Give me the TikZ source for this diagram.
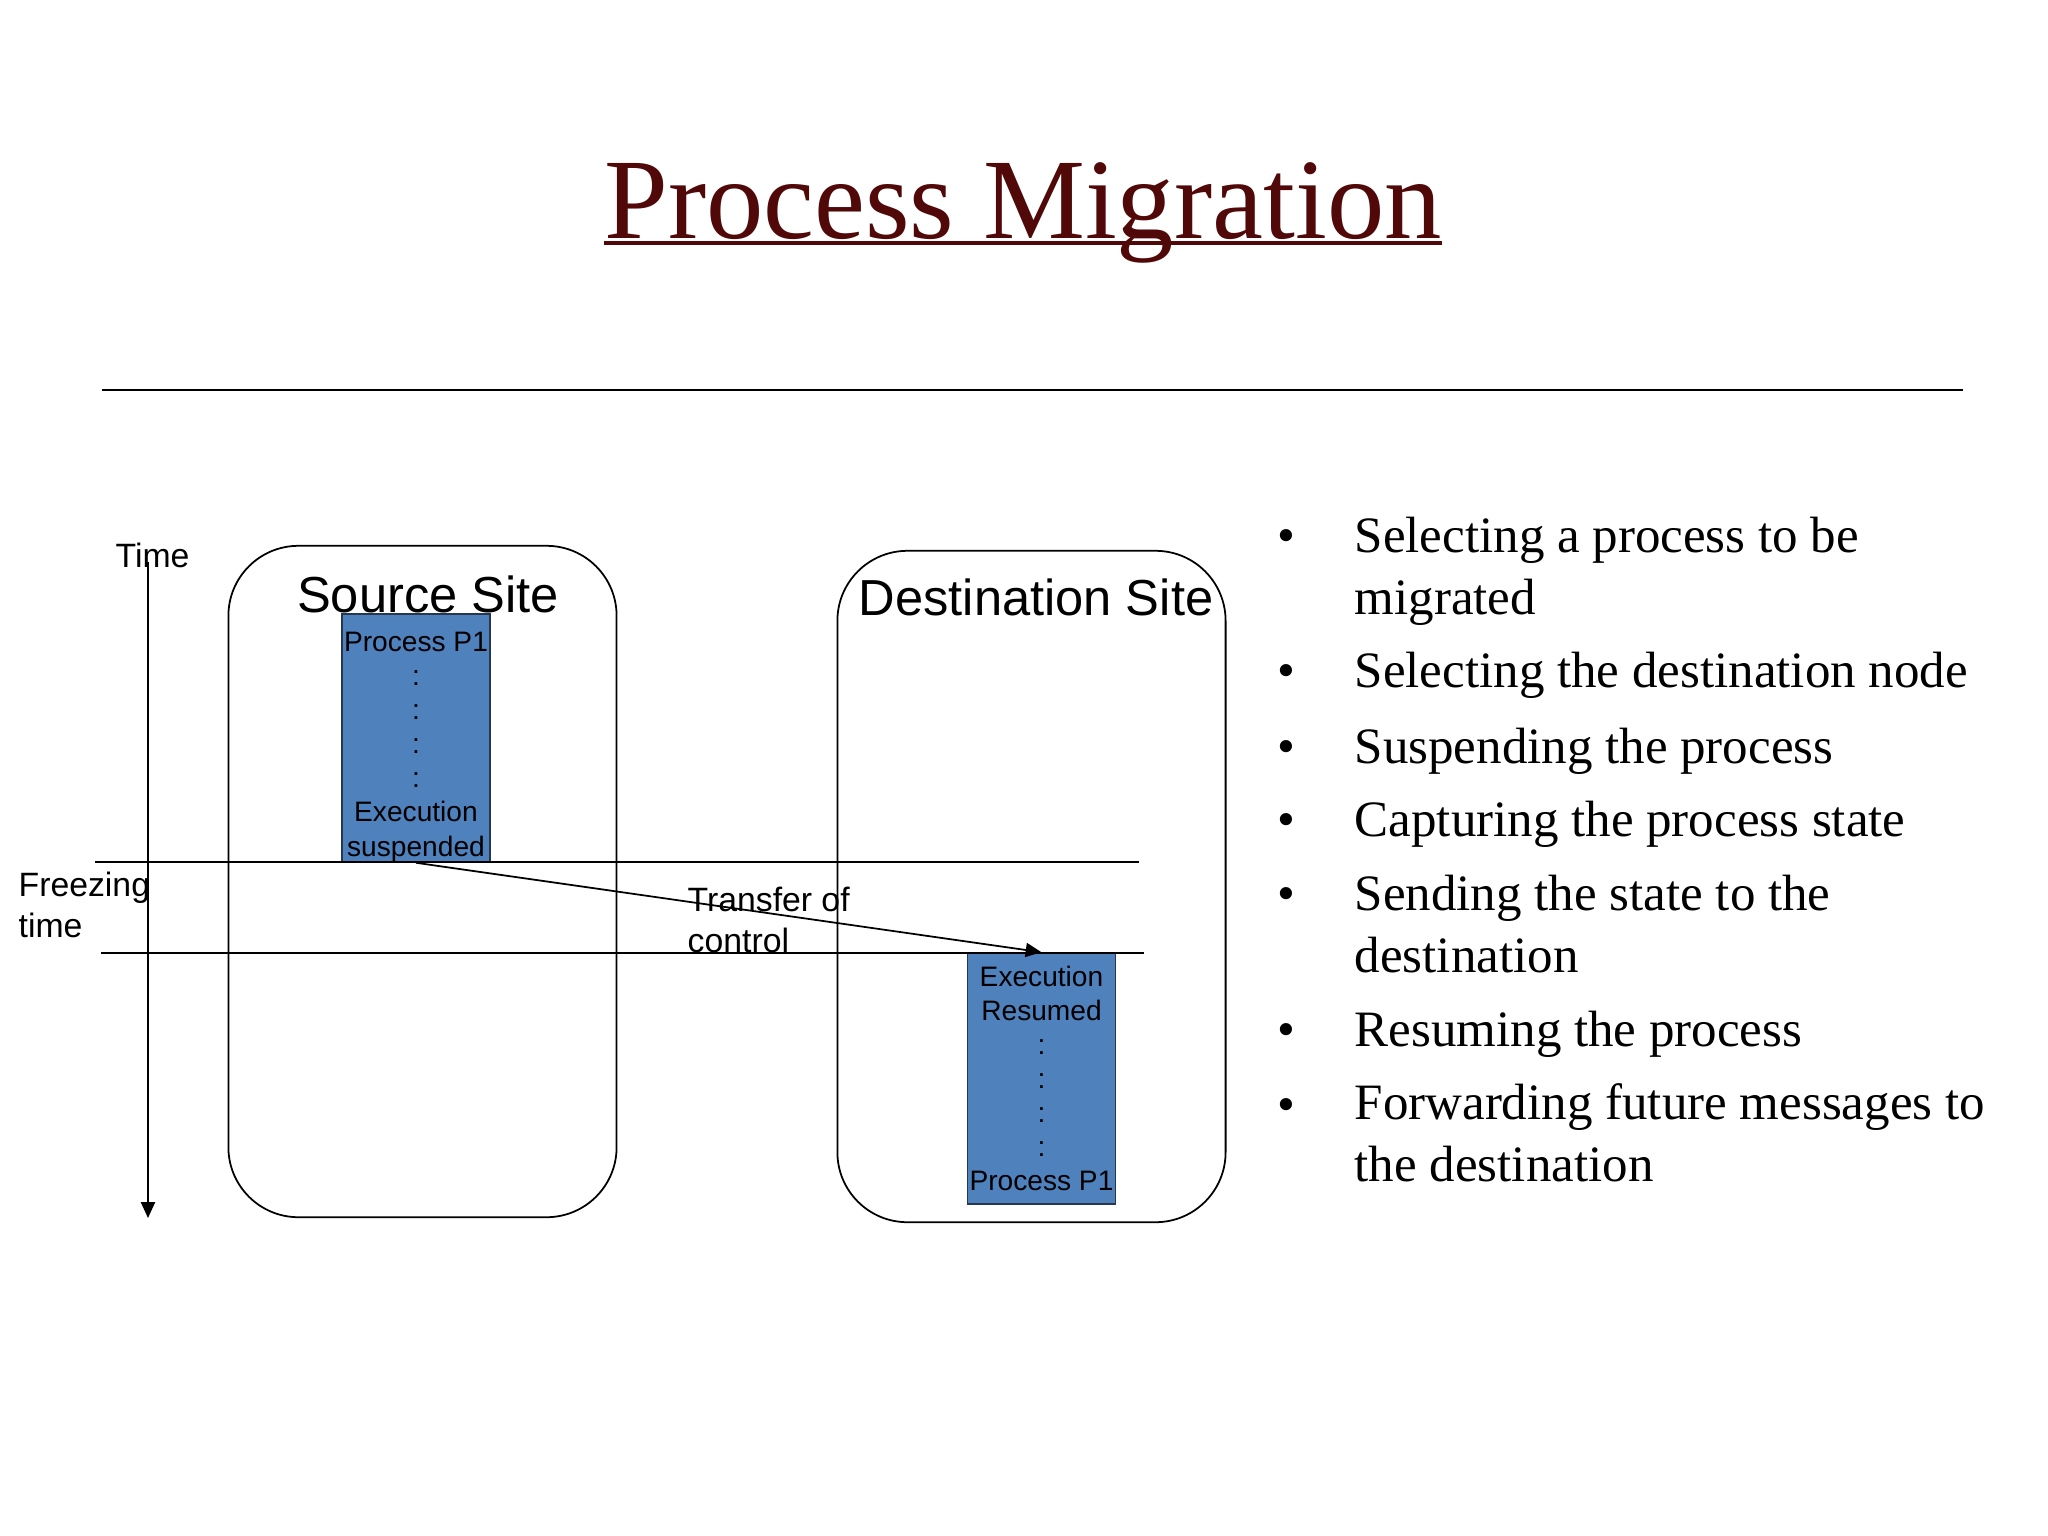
\documentclass[tikz,border=0pt]{standalone}
\usepackage{fontspec}
\setmainfont{Liberation Serif}
\setsansfont{Liberation Sans}
\usepackage{tikz}
\usetikzlibrary{arrows.meta, positioning}
\definecolor{titlered}{RGB}{80,8,8}
\definecolor{procblue}{RGB}{79,129,189}
\definecolor{procedge}{RGB}{40,55,80}

\begin{document}
\begin{tikzpicture}[
        x=0.01cm, y=-0.01cm,
        >={Triangle[length=4.5pt, width=4pt]},
        site/.style={draw, line width=0.5pt, rounded corners=0.7cm, minimum width=3.88cm, minimum height=6.71cm},
        sitename/.style={font=\sffamily\fontsize{14.4}{17}\selectfont, inner sep=0pt},
        procbox/.style={draw=procedge, line width=0.4pt, fill=procblue, minimum width=1.48cm, align=center, font=\sffamily\fontsize{8}{9.7}\selectfont, inner sep=0pt},
        lbl/.style={font=\sffamily\fontsize{9.6}{11.7}\selectfont, align=left, inner sep=0pt},
        itemtext/.style={font=\fontsize{14.5}{17.4}\selectfont, align=left, anchor=base west, inner sep=0pt},
        every node/.style={inner sep=2pt}
    ]
    \useasboundingbox[fill=white] (0,0) rectangle (2048,1536);

    % title and rule
    \node[font=\fontsize{32.6}{38}\selectfont, text=titlered, anchor=base, inner sep=0pt] (title) at (1023,238) {Process Migration};
    \draw[titlered, line width=1.1pt] ([yshift=-0.05cm]title.base west) -- ([yshift=-0.05cm]title.base east);
    \coordinate (ruleL) at (102,390);
    \coordinate (ruleR) at (1963,390);
    \draw[line width=0.6pt] (ruleL) -- (ruleR);

    % sites
    \node[site] (src) at (422.5,881.5) {};
    \node[site] (dst) at (1031.5,886.5) {};
    \node[sitename] (srcname) at (428,594) {Source Site};
    \node[sitename] (dstname) at (1036,597) {Destination Site};

    % process boxes
    \node[procbox, minimum height=2.48cm] (srcproc) at (416,738) {\rule{0pt}{10.6pt}Process P1\\:\\:\\:\\:\\Execution\\suspended};
    \node[procbox, minimum height=2.51cm] (dstproc) at (1041.5,1078.5) {Execution\\Resumed\\:\\:\\:\\:\\Process P1};

    % time axis and freezing window
    \node[lbl, anchor=west] (time) at (115,555) {Time};
    \coordinate (ttop) at (148,562);
    \coordinate (tbot) at (148,1218);
    \draw[->, line width=0.5pt] (ttop) -- (tbot);
    \coordinate (f1L) at (95,862);
    \coordinate (f1R) at (1139,862);
    \coordinate (f2L) at (101,953);
    \coordinate (f2R) at (1144,953);
    \draw[line width=0.5pt] (f1L) -- (f1R);
    \draw[line width=0.5pt] (f2L) -- (f2R);
    \node[lbl, anchor=west] (freeze) at (18,905) {Freezing\\time};

    % transfer of control
    \draw[->, line width=0.5pt] (srcproc.south) -- (dstproc.north);
    \node[lbl, anchor=west] (transfer) at (687,920) {Transfer of\\control};

    % steps (bullet on first baseline, node base on last baseline)
    \foreach \y/\yb/\txt [count=\i] in {552/614/{Selecting a process to be\\migrated},
                                    687/687/{Selecting the destination node},
                                    763/763/{Suspending the process},
                                    836/836/{Capturing the process state},
                                    910/972/{Sending the state to the\\destination},
                                    1046/1046/{Resuming the process},
                                    1121/1181/{Forwarding future messages to\\the destination}} {
        \node[itemtext, anchor=base] (dot\i) at (1286,\y) {\textbullet};
        \node[itemtext] (item\i) at (1354,\yb) {\txt};
    }
\end{tikzpicture}
\end{document}
